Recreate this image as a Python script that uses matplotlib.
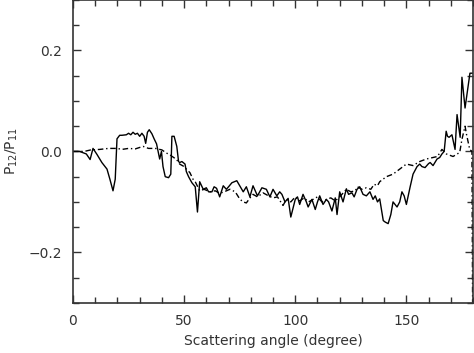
import matplotlib
matplotlib.use("Agg")
import matplotlib.pyplot as plt
from matplotlib.ticker import MultipleLocator, FuncFormatter

# solid curve (angle in degree, P12/P11)
solid_ang = [0, 3, 6, 7.7, 9, 10.8, 13, 15.3, 16.6, 18, 19, 19.8, 21, 22, 24, 25, 26, 27, 28,
             29, 30, 31, 32, 32.7, 33.5, 34.3, 35.5, 36.5, 37.6, 38.5, 39, 39.8, 40.5, 41.5,
             43, 44, 44.5, 45.5, 46.7, 47.5, 48, 49, 50.4, 51, 52, 53.5, 55, 56, 57, 58.6,
             60, 61, 62.5, 63.5, 64.6, 66, 67.6, 69, 70, 71.5, 73.7, 75, 76.6, 78, 79.6, 81,
             83, 85, 87, 88.6, 90, 91.7, 93, 94, 95.4, 96.8, 98, 100, 101, 102, 103.5, 105,
             105.8, 107.5, 109, 110, 111, 112.5, 114, 115, 116.5, 118, 118.8, 120, 121.5,
             123, 124, 125.5, 126.5, 127.8, 129, 130.5, 132, 133.6, 135, 136, 137, 138,
             139.6, 140.5, 141.8, 143, 144, 145.8, 147, 148, 149, 150, 151.7, 153, 154.8,
             156, 157, 158.4, 160, 160.7, 162, 163.8, 165, 166, 167, 167.9, 168.5, 169.2,
             170.5, 171.9, 172.8, 173.5, 174.2, 175, 176.4, 177.5, 178.6, 180]
solid_val = [0.0, 0.0, -0.005, -0.016, 0.006, -0.006, -0.022, -0.035, -0.055, -0.078, -0.055,
             0.025, 0.032, 0.032, 0.033, 0.036, 0.033, 0.038, 0.034, 0.036, 0.03, 0.036, 0.03,
             0.016, 0.038, 0.043, 0.035, 0.025, 0.015, -0.005, -0.015, 0.0, -0.03, -0.05,
             -0.052, -0.045, 0.03, 0.03, 0.01, -0.02, -0.022, -0.02, -0.025, -0.04, -0.05,
             -0.062, -0.07, -0.12, -0.06, -0.075, -0.072, -0.08, -0.08, -0.07, -0.073, -0.09,
             -0.068, -0.075, -0.07, -0.062, -0.058, -0.068, -0.08, -0.07, -0.09, -0.068,
             -0.088, -0.072, -0.075, -0.09, -0.075, -0.088, -0.08, -0.085, -0.1, -0.093,
             -0.13, -0.095, -0.09, -0.105, -0.085, -0.1, -0.11, -0.095, -0.115, -0.1, -0.088,
             -0.105, -0.095, -0.1, -0.118, -0.092, -0.125, -0.08, -0.1, -0.074, -0.085,
             -0.082, -0.09, -0.075, -0.07, -0.085, -0.088, -0.08, -0.095, -0.088, -0.1,
             -0.094, -0.137, -0.14, -0.143, -0.125, -0.1, -0.11, -0.1, -0.08, -0.088, -0.105,
             -0.07, -0.045, -0.03, -0.025, -0.03, -0.032, -0.024, -0.022, -0.028, -0.015,
             -0.012, -0.005, 0.0, 0.04, 0.03, 0.028, 0.033, 0.004, 0.073, 0.05, 0.028, 0.147,
             0.086, 0.12, 0.155, 0.155]

# dash-dot curve
dd_ang = [0, 5, 8, 12, 16, 20, 22, 25, 28, 31.5, 34, 37, 40, 42, 44, 46.6, 48, 50, 51, 52.6,
          54, 55, 57, 59, 61.6, 64, 66, 68, 70.6, 73, 75, 76.5, 78, 80, 81, 83, 85.5, 88, 90,
          92, 94.5, 96, 98, 100, 102, 104, 106, 108, 110, 112, 114, 116, 118, 120, 123, 125,
          127, 128, 130, 132, 134, 135.5, 137, 138, 141, 144, 147, 150, 153, 156, 159, 164,
          166, 168, 171, 174, 175, 176.4, 177, 178.5, 179.5, 180]
dd_val = [0.0, 0.0, 0.003, 0.004, 0.006, 0.006, 0.004, 0.006, 0.005, 0.01, 0.006, 0.006, 0.003,
          -0.003, -0.008, -0.016, -0.025, -0.03, -0.035, -0.042, -0.055, -0.06, -0.078,
          -0.075, -0.08, -0.078, -0.083, -0.08, -0.075, -0.08, -0.094, -0.1, -0.102, -0.09,
          -0.085, -0.09, -0.082, -0.088, -0.092, -0.09, -0.107, -0.095, -0.1, -0.09, -0.098,
          -0.092, -0.1, -0.095, -0.09, -0.1, -0.095, -0.092, -0.098, -0.09, -0.075, -0.08,
          -0.078, -0.07, -0.075, -0.072, -0.075, -0.065, -0.068, -0.06, -0.05, -0.045,
          -0.035, -0.025, -0.028, -0.02, -0.015, -0.01, 0.004, -0.005, -0.01, -0.002, 0.024,
          0.05, 0.035, 0.004, 0.0, -0.5]

plt.rcParams['mathtext.default'] = 'regular'
fig = plt.figure(figsize=(4.74, 3.53), dpi=100)
ax = fig.add_axes([0.154, 0.142, 0.844, 0.858])

ax.plot(solid_ang, solid_val, color='black', lw=1.0)
ax.plot(dd_ang, dd_val, color='black', lw=1.0, linestyle=(0, (4, 2, 1, 2)))

ax.set_xlim(0, 180)
ax.set_ylim(-0.3, 0.3)
ax.xaxis.set_major_locator(MultipleLocator(50))
ax.xaxis.set_minor_locator(MultipleLocator(10))
ax.yaxis.set_major_locator(MultipleLocator(0.2))
ax.yaxis.set_minor_locator(MultipleLocator(0.05))
ax.yaxis.set_major_formatter(FuncFormatter(lambda v, p: ('%.1f' % v).replace('-', '\u2212')))
ax.tick_params(which='both', direction='in', top=True, right=True, colors='#333333',
               labelsize=10, width=1)
ax.tick_params(which='major', length=6, pad=8)
ax.tick_params(which='minor', length=4)
for s in ax.spines.values():
    s.set_linewidth(1.2)
    s.set_color('#333333')

ax.set_xlabel('Scattering angle (degree)', fontsize=10, color='#333333', labelpad=4)
ax.set_ylabel(r'P$_{12}$/P$_{11}$', fontsize=10, color='#333333', labelpad=6)

fig.savefig('out.png', dpi=100)
